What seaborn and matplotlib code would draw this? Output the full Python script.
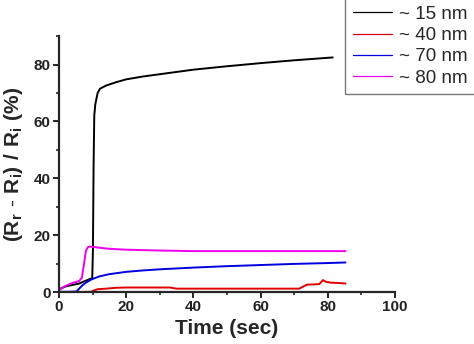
import matplotlib
matplotlib.use("Agg")
import matplotlib.pyplot as plt
import seaborn as sns
import pandas as pd
from matplotlib.ticker import MultipleLocator

# Response transients for films of different thickness
labels = ["~ 15 nm", "~ 40 nm", "~ 70 nm", "~ 80 nm"]
colors = ["#000000", "#e00000", "#0000e0", "#ee00ee"]

t_15 = [0, 2, 4, 6, 8, 9.9, 10.1, 10.3, 10.5, 10.8, 11.5, 12.2, 14, 17, 20, 25, 30, 40, 50, 60, 70, 81.5]
r_15 = [1.0, 2.0, 2.5, 3.0, 4.0, 4.9, 15, 45, 62, 66, 70, 71.5, 72.6, 73.8, 74.8, 75.8, 76.6, 78.2, 79.4, 80.5, 81.5, 82.5]

t_40 = [0, 5, 9.5, 10.5, 11.5, 14, 17, 20, 25, 33, 35, 50, 65, 71.5, 72.5, 73.8, 76, 77.5, 78.6, 79.5, 81, 83, 85.3]
r_40 = [0, 0, 0.1, 0.6, 1.0, 1.2, 1.5, 1.6, 1.6, 1.6, 1.2, 1.2, 1.2, 1.2, 1.8, 2.6, 2.7, 2.8, 4.2, 3.6, 3.3, 3.2, 3.0]

t_70 = [0, 3, 5.2, 6, 7, 8, 9, 10, 12, 15, 20, 25, 30, 40, 50, 60, 70, 80, 85.3]
r_70 = [0.1, 0.1, 0.2, 1.2, 2.4, 3.3, 4.0, 4.6, 5.5, 6.3, 7.1, 7.6, 8.0, 8.6, 9.1, 9.5, 9.9, 10.2, 10.4]

t_80 = [0, 2, 4, 6, 6.8, 7.4, 8.0, 8.6, 9.2, 10, 12, 15, 20, 30, 40, 50, 60, 70, 85.3]
r_80 = [0.7, 2.2, 3.2, 3.9, 5.0, 9.5, 14.5, 15.8, 16.0, 15.9, 15.6, 15.2, 14.9, 14.6, 14.4, 14.4, 14.4, 14.4, 14.4]

frames = []
for lab, t, r in zip(labels, [t_15, t_40, t_70, t_80], [r_15, r_40, r_70, r_80]):
    frames.append(pd.DataFrame({"time": t, "response": r, "film": lab}))
df = pd.concat(frames, ignore_index=True)

sns.set_style("ticks")
plt.rcParams["font.family"] = ["Liberation Sans", "DejaVu Sans"]
plt.rcParams["mathtext.fontset"] = "custom"
plt.rcParams["mathtext.rm"] = "Liberation Sans"
plt.rcParams["mathtext.bf"] = "Liberation Sans:bold"

fig = plt.figure(figsize=(4.74, 3.44), dpi=100)
ax = fig.add_axes([0.1245, 0.151, 0.7085, 0.744])

sns.lineplot(data=df, x="time", y="response", hue="film", hue_order=labels,
             palette=dict(zip(labels, colors)), estimator=None, sort=False,
             linewidth=1.4, ax=ax, legend=False)

ax.set_xlim(0, 100)
ax.set_ylim(0, 90)
ax.set_xticks([0, 20, 40, 60, 80, 100])
ax.set_yticks([0, 20, 40, 60, 80])
ax.xaxis.set_minor_locator(MultipleLocator(10))
ax.yaxis.set_minor_locator(MultipleLocator(10))
for s in ["top", "right"]:
    ax.spines[s].set_visible(False)
for s in ["left", "bottom"]:
    ax.spines[s].set_linewidth(1.6)
ax.tick_params(which="major", direction="out", length=4, width=1.4, labelsize=11, pad=2)
ax.tick_params(which="minor", direction="out", length=2.5, width=1.2)
for lab in ax.get_xticklabels() + ax.get_yticklabels():
    lab.set_fontweight("bold")
    lab.set_color("#222222")

ax.set_xlabel("Time (sec)", fontsize=15, fontweight="bold", labelpad=3)
ax.set_ylabel(r"$\mathbf{(R_r\ \text{-}\ R_i)\ /\ R_i\ (\%)}$", fontsize=15, labelpad=6)

handles = [plt.Line2D([], [], color=c, linewidth=0.9) for c in colors]
leg = fig.legend(handles, labels, loc="upper left", bbox_to_anchor=(0.728, 1.005),
                 fontsize=13.5, frameon=True, fancybox=False, handlelength=2.1,
                 handletextpad=0.4, labelspacing=0.22, borderpad=0.4,
                 borderaxespad=0.0)
leg.get_frame().set_edgecolor("#555555")
leg.get_frame().set_linewidth(1.0)

fig.savefig("out.png", dpi=100)
